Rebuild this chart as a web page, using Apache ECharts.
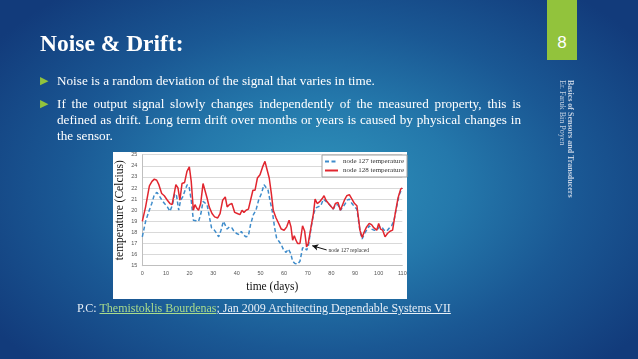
<!DOCTYPE html>
<html>
<head>
<meta charset="utf-8">
<script src="https://cdn.jsdelivr.net/npm/echarts@6/dist/echarts.min.js"></script>
<style>
  html, body { margin:0; padding:0; }
  body { width:638px; height:359px; overflow:hidden; position:relative;
    background: radial-gradient(ellipse 62% 70% at 50% 52%, #2f93bb 0%, #2478ab 35%, #1a5894 65%, #123b7b 100%); }
  #chart { position:absolute; left:0; top:0; width:638px; height:359px; }
  .txt { position:absolute; font-family:"Liberation Serif", serif; color:#fff; }
  #title { left:40px; top:28px; font-size:23.5px; font-weight:bold; line-height:30px; }
  #pg { position:absolute; left:547px; top:0; width:30px; height:60px; background:#92c33c; }
  #pgn { position:absolute; left:547px; width:30px; top:33px; text-align:center; font-family:"Liberation Sans", sans-serif; font-size:17px; color:#fff; line-height:20px; }
  .bul { position:absolute; left:57px; width:464px; font-size:13.2px; line-height:16px; text-align:justify; }
  .arrow { position:absolute; left:40px; color:#92c33c; font-size:10.5px; line-height:16px; }
  #side { position:absolute; left:557px; top:80px; writing-mode:vertical-rl; font-family:"Liberation Serif", serif; font-size:8px; line-height:8.5px; color:#c3d0e2; white-space:nowrap; }
  #cite { left:77px; top:300px; font-size:12px; line-height:16px; color:#e6eef6; white-space:nowrap; }
  #cite .u { text-decoration:underline; }
  #cite .g { color:#a9dc8c; }
</style>
</head>
<body>
<div id="chart"></div>
<div id="title" class="txt">Noise &amp; Drift:</div>
<div id="pg"></div><div id="pgn">8</div>
<div class="arrow" style="top:73px">&#9654;</div>
<div class="bul txt" style="top:73px">Noise is a random deviation of the signal that varies in time.</div>
<div class="arrow" style="top:96px">&#9654;</div>
<div class="bul txt" style="top:96px">If the output signal slowly changes independently of the measured property, this is defined as drift. Long term drift over months or years is caused by physical changes in the sensor.</div>
<div id="side"><b>Basics of Sensors and Transducers</b><br>Er. Faruk Bin Poyen</div>
<div id="cite" class="txt">P.C: <span class="u g">Themistoklis Bourdenas</span><span class="u">; Jan 2009 Architecting Dependable Systems VII</span></div>
<script>
const seriesNames = ['node 127 temperature', 'node 128 temperature'];
const xTicks = [0, 10, 20, 30, 40, 50, 60, 70, 80, 90, 100, 110];
const days128 = [0,1.4,3,4.1,5.1,6.1,7,8.2,9.3,10.6,11.7,12.6,13.5,14.2,15.1,15.9,16.8,17.9,18.9,19.9,20.7,21.6,22.3,23,23.8,24.7,25.7,26.5,27.4,28.3,29.5,30.6,31.9,32.9,34,35.1,35.9,36.8,37.9,39.1,40.2,41.3,42.2,43,43.9,44.9,45.8,46.8,47.7,48.7,49.8,50.9,51.9,52.6,53.7,54.6,55.4,56.6,57.7,58.8,60,61.1,62.1,62.9,63.6,64.3,65,65.7,66.7,67.8,68.7,69.5,70.2,71.4,72.4,73.1,74,75.2,76.3,76.9,77.7,78.8,80,80.8,81.7,82.8,83.8,84.6,85.5,86.5,87.6,88.7,89.8,90.8,92.1,93,94,94.9,96,97,98,99.2,100,100.8,101.7,102.7,103.7,104.8,105.9,107,108.2,109.3,110];
const temp128 = [19.0,20.3,22.2,22.6,22.8,22.7,22.3,21.5,21.3,20.9,20.6,20.5,21.5,22.3,22.0,20.9,22.4,22.5,23.5,23.9,22.6,20.0,20.5,20.2,20.0,20.6,22.4,22.3,21.1,20.3,19.7,19.4,19.3,19.7,20.9,21.2,20.3,20.5,20.6,19.8,19.7,19.6,20.0,19.8,20.0,20.1,20.9,21.8,21.8,22.9,23.2,23.9,24.4,23.8,22.9,21.5,20.0,19.3,18.8,18.3,18.2,18.5,19.1,18.5,17.3,17.7,17.3,17.0,17.0,18.6,18.1,16.7,17.0,18.5,19.7,21.0,20.6,20.8,21.1,21.3,20.9,20.6,20.3,20.1,20.6,20.7,20.0,20.0,20.9,21.3,21.4,21.0,20.6,20.4,18.2,17.55,18.1,18.5,18.8,18.7,18.4,18.2,18.8,18.3,18.2,17.6,17.9,18.1,18.2,19.7,21.1,21.9,22.0];
const days127 = [0,1.4,2.8,4,5.1,6.2,7.2,8.3,9.4,10.6,11.7,12.8,13.7,14.5,15.4,16.2,17.1,18.1,19,19.9,20.7,21.6,22.7,23.8,24.8,25.7,26.5,27.4,28.2,29.3,30.5,31.5,32.3,33.3,34.3,35.1,35.9,36.8,37.9,38.8,39.9,41,41.9,42.7,43.9,44.9,45.8,47,48.1,49.2,50.4,51.5,52.3,53.2,54,55,56,56.8,57.8,58.8,59.8,60.8,61.8,62.8,63.6,64.6,65.7,66.7,67.8,68.7,69.5,70.2,71.4,72.4,73.3,74.3,75.5,76.6,77.7,78.8,80,80.8,81.7,82.8,83.8,84.6,85.6,86.7,87.6,88.7,89.8,90.8,92.1,93,94,94.9,96,97,98,99.2,100.3,101.3,102.3,103.4,104.5,105.5,106.5,107.6,108.7,110];
const temp127 = [17.6,19.0,19.9,20.6,21.4,21.6,21.3,20.9,20.6,20.3,19.9,20.5,21.5,21.3,20.0,20.9,21.2,21.8,22.3,22.0,20.9,19.1,19.05,19.0,19.7,20.8,20.9,20.5,19.6,18.4,18.2,17.9,17.6,18.2,19.0,19.1,18.3,18.5,18.4,18.1,17.9,17.8,18.1,17.8,17.6,17.7,18.7,19.6,20.0,20.9,21.5,22.3,22.4,21.8,20.9,19.9,18.4,17.5,17.2,16.9,16.4,16.2,16.5,16.1,15.4,15.2,15.15,15.4,16.6,16.65,16.4,16.7,18.4,19.6,20.2,20.3,20.4,21.0,20.8,20.6,20.3,20.1,20.5,20.5,20.0,19.9,20.5,20.9,21.0,20.6,20.3,20.1,18.1,17.4,17.9,18.2,18.6,18.3,18.2,18.2,18.5,18.5,18.2,18.1,18.4,18.6,19.1,20.3,21.4,22.0];
const annotationText = 'node 127 replaced';
const annotationFrom = [78.0, 16.42];
const annotationTo = [71.9, 16.8];

const pairs = (xs, ys) => xs.map((x, i) => [x, ys[i]]);
const chart = echarts.init(document.getElementById('chart'), null, {renderer: 'canvas'});
const serif = 'Liberation Serif';
chart.setOption({
  backgroundColor: 'transparent',
  animation: false,
  graphic: [{ type: 'rect', z: -10, shape: { x: 113, y: 152, width: 294, height: 147 }, style: { fill: '#ffffff' } }],
  grid: { left: 142.3, right: 235.7, top: 154.7, bottom: 93.3 },
  legend: {
    data: seriesNames, orient: 'vertical', left: 322, top: 155,
    backgroundColor: '#fff', borderColor: '#a0a0a0', borderWidth: 1, borderRadius: 0,
    padding: [3, 3, 3, 2], itemGap: 2, itemWidth: 13, itemHeight: 8,
    itemStyle: { opacity: 0 },
    textStyle: { fontFamily: serif, fontSize: 7, color: '#333' }
  },
  xAxis: {
    type: 'value', min: 0, max: 110, interval: 10,
    name: 'time (days)', nameLocation: 'middle', nameGap: 15,
    nameTextStyle: { fontFamily: serif, fontSize: 11.5, color: '#111' },
    axisLine: { show: true, lineStyle: { color: '#bfbfbf', width: 1 } },
    axisTick: { show: false },
    axisLabel: { fontSize: 5.5, color: '#555', margin: 5, formatter: v => xTicks.includes(v) ? String(v) : '' },
    splitLine: { show: false }
  },
  yAxis: {
    type: 'value', min: 15, max: 25, interval: 1,
    name: 'temperature (Celcius)', nameLocation: 'middle', nameGap: 16, nameRotate: 90,
    nameTextStyle: { fontFamily: serif, fontSize: 11.5, color: '#111' },
    axisLine: { show: true, lineStyle: { color: '#bfbfbf', width: 1 } },
    axisTick: { show: false },
    axisLabel: { fontSize: 5.5, color: '#555', margin: 5 },
    splitLine: { show: true, lineStyle: { color: '#d9d9d9', width: 1 } }
  },
  series: [
    {
      name: seriesNames[0], type: 'line', data: pairs(days127, temp127), symbol: 'none', z: 3,
      lineStyle: { color: '#3e8ccb', width: 1.5, type: [4, 2.5] }, itemStyle: { color: '#3e8ccb' },
      markLine: {
        silent: true, symbol: ['none', 'arrow'], symbolSize: [5, 6],
        lineStyle: { color: '#111', width: 1, type: 'solid' },
        label: { show: true, position: 'start', formatter: annotationText, fontFamily: serif, fontSize: 5.5, color: '#333', distance: 2 },
        data: [[{ coord: annotationFrom }, { coord: annotationTo }]]
      }
    },
    {
      name: seriesNames[1], type: 'line', data: pairs(days128, temp128), symbol: 'none', z: 4,
      lineStyle: { color: '#e1262f', width: 1.5 }, itemStyle: { color: '#e1262f' }
    }
  ]
});
</script>
</body>
</html>
